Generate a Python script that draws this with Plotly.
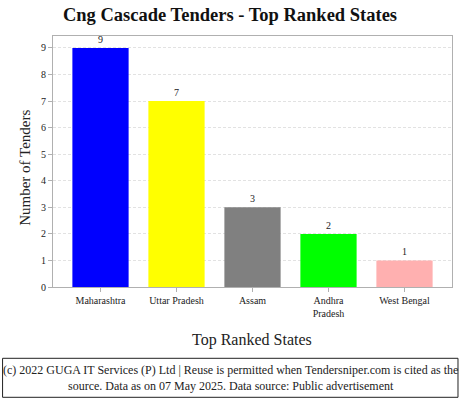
import plotly.graph_objects as go

states = ["Maharashtra", "Uttar Pradesh", "Assam", "Andhra<br>Pradesh", "West Bengal"]
tenders = [9, 7, 3, 2, 1]
bar_colors = ["#0000ff", "#ffff00", "#808080", "#00ff00", "#ffb0b0"]

W, H = 460, 400
L, R, T, B = 52.5, 8, 35.7, 113.3
PW, PH = W - L - R, H - T - B


def px_x(x):
    return (x - L) / PW


def px_y(y):
    return (H - B - y) / PH


font = "Liberation Serif"

fig = go.Figure(
    go.Bar(
        x=states,
        y=tenders,
        marker=dict(color=bar_colors, line=dict(width=0)),
        width=0.74,
        text=tenders,
        textposition="outside",
        textfont=dict(size=10, color="#222"),
        cliponaxis=False,
    )
)

fig.update_layout(
    width=W,
    height=H,
    margin=dict(l=L, r=R, t=T, b=B, autoexpand=False),
    plot_bgcolor="white",
    paper_bgcolor="white",
    font=dict(family=font, color="#222"),
    showlegend=False,
    title=dict(
        text="<b>Cng Cascade Tenders - Top Ranked States</b>",
        x=0.5,
        xanchor="center",
        y=1 - 15 / H,
        yanchor="middle",
        font=dict(size=18.5, color="#111", family=font),
    ),
    xaxis=dict(
        range=[-0.625, 4.625],
        automargin=False,
        showline=True,
        linecolor="#b0b0b0",
        mirror=True,
        ticks="outside",
        ticklen=4,
        tickcolor="#b0b0b0",
        tickfont=dict(size=10),
    ),
    yaxis=dict(
        range=[0, 9.45],
        dtick=1,
        automargin=False,
        showline=True,
        linecolor="#b0b0b0",
        mirror=True,
        ticks="outside",
        ticklen=4,
        tickcolor="#b0b0b0",
        tickfont=dict(size=10),
        showgrid=True,
        gridcolor="#e2e2e2",
        griddash="3px,2px",
        zeroline=False,
    ),
)

# axis titles
fig.add_annotation(
    xref="paper", yref="paper", x=px_x(252), y=px_y(340),
    xanchor="center", yanchor="middle",
    text="Top Ranked States", showarrow=False,
    font=dict(size=16, color="#222"),
)
fig.add_annotation(
    xref="paper", yref="paper", x=px_x(25), y=px_y(168),
    xanchor="center", yanchor="middle",
    text="Number of Tenders", showarrow=False, textangle=-90,
    font=dict(size=15, color="#222"),
)

# footer box with copyright note
fig.add_shape(
    type="rect",
    xref="paper",
    yref="paper",
    x0=px_x(2),
    x1=px_x(458),
    y0=px_y(397),
    y1=px_y(358),
    line=dict(color="#222", width=1),
    fillcolor="rgba(0,0,0,0)",
    layer="below",
)
fig.add_annotation(
    xref="paper",
    yref="paper",
    x=px_x(230),
    y=px_y(377.5),
    xanchor="center",
    yanchor="middle",
    text="(c) 2022 GUGA IT Services (P) Ltd | Reuse is permitted when Tendersniper.com is cited as the<br>source. Data as on 07 May 2025. Data source: Public advertisement",
    showarrow=False,
    font=dict(size=12, color="#222"),
    align="center",
)

# page body has a default 8px margin, drop it so the figure sits at 0,0
fig.write_html(
    "out.html",
    config={"displayModeBar": False},
    post_script="document.body.style.margin='0';",
)
